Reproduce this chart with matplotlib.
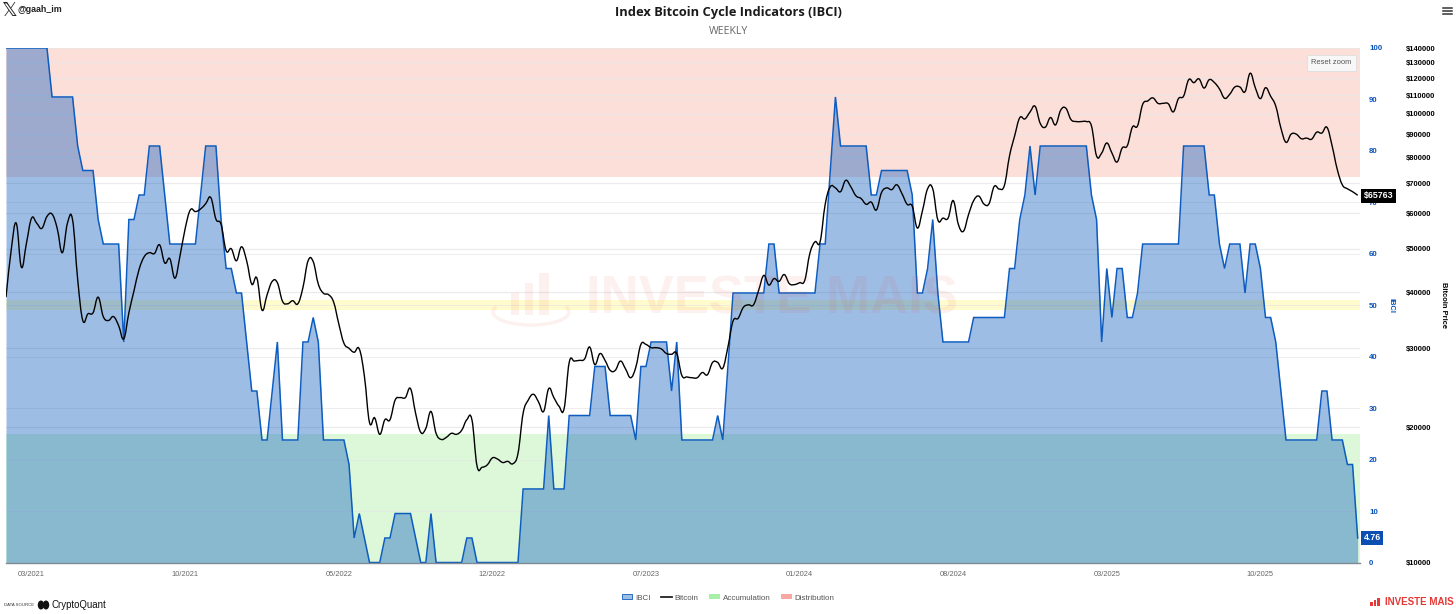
import numpy as np
import matplotlib
matplotlib.use("Agg")
import matplotlib.pyplot as plt
from matplotlib.lines import Line2D
from matplotlib.patches import Patch, PathPatch, Rectangle, Arc, Ellipse
from matplotlib.path import Path

# weekly series
ibci = [
    100, 100, 100, 100, 100, 100, 100, 100, 100, 90.48,
    90.48, 90.48, 90.48, 90.48, 80.95, 76.19, 76.19, 76.19, 66.67, 61.9,
    61.9, 61.9, 61.9, 42.86, 66.67, 66.67, 71.43, 71.43, 80.95, 80.95,
    80.95, 71.43, 61.9, 61.9, 61.9, 61.9, 61.9, 61.9, 71.43, 80.95,
    80.95, 80.95, 66.67, 57.14, 57.14, 52.38, 52.38, 42.86, 33.33, 33.33,
    23.81, 23.81, 33.33, 42.86, 23.81, 23.81, 23.81, 23.81, 42.86, 42.86,
    47.62, 42.86, 23.81, 23.81, 23.81, 23.81, 23.81, 19.05, 4.76, 9.52,
    4.76, 0, 0, 0, 4.76, 4.76, 9.52, 9.52, 9.52, 9.52,
    4.76, 0, 0, 9.52, 0, 0, 0, 0, 0, 0,
    4.76, 4.76, 0, 0, 0, 0, 0, 0, 0, 0,
    0, 14.29, 14.29, 14.29, 14.29, 14.29, 28.57, 14.29, 14.29, 14.29,
    28.57, 28.57, 28.57, 28.57, 28.57, 38.1, 38.1, 38.1, 28.57, 28.57,
    28.57, 28.57, 28.57, 23.81, 38.1, 38.1, 42.86, 42.86, 42.86, 42.86,
    33.33, 42.86, 23.81, 23.81, 23.81, 23.81, 23.81, 23.81, 23.81, 28.57,
    23.81, 38.1, 52.38, 52.38, 52.38, 52.38, 52.38, 52.38, 52.38, 61.9,
    61.9, 52.38, 52.38, 52.38, 52.38, 52.38, 52.38, 52.38, 52.38, 61.9,
    61.9, 76.19, 90.48, 80.95, 80.95, 80.95, 80.95, 80.95, 80.95, 71.43,
    71.43, 76.19, 76.19, 76.19, 76.19, 76.19, 76.19, 71.43, 52.38, 52.38,
    57.14, 66.67, 52.38, 42.86, 42.86, 42.86, 42.86, 42.86, 42.86, 47.62,
    47.62, 47.62, 47.62, 47.62, 47.62, 47.62, 57.14, 57.14, 66.67, 71.43,
    80.95, 71.43, 80.95, 80.95, 80.95, 80.95, 80.95, 80.95, 80.95, 80.95,
    80.95, 80.95, 71.43, 66.67, 42.86, 57.14, 47.62, 57.14, 57.14, 47.62,
    47.62, 52.38, 61.9, 61.9, 61.9, 61.9, 61.9, 61.9, 61.9, 61.9,
    80.95, 80.95, 80.95, 80.95, 80.95, 71.43, 71.43, 61.9, 57.14, 61.9,
    61.9, 61.9, 52.38, 61.9, 61.9, 57.14, 47.62, 47.62, 42.86, 33.33,
    23.81, 23.81, 23.81, 23.81, 23.81, 23.81, 23.81, 33.33, 33.33, 23.81,
    23.81, 23.81, 19.05, 19.05, 4.76,
]

bitcoin = [
    39000, 49500, 57000, 45500, 51500, 58500, 57000, 55500, 59000, 59700,
    55500, 49000, 57000, 58000, 42700, 34600, 35800, 36000, 39000, 35300,
    34600, 35300, 33700, 31500, 36000, 40300, 45000, 48000, 49000, 48800,
    51000, 46500, 47500, 43000, 48300, 55500, 61000, 60500, 61300, 63000,
    65000, 58200, 56700, 49500, 50000, 47000, 50500, 47000, 41700, 43000,
    36500, 39500, 42300, 42000, 38200, 37700, 38300, 37700, 41000, 47000,
    46800, 41700, 39800, 39500, 38000, 34000, 30800, 30000, 29400, 29900,
    26000, 20500, 21000, 19300, 20800, 20800, 23000, 23300, 23300, 24400,
    21500, 19500, 19900, 21700, 19400, 18800, 19000, 19400, 19300, 19700,
    20800, 20800, 16400, 16300, 16500, 17100, 17000, 16700, 16800, 16600,
    17500, 21500, 23000, 23700, 22800, 21700, 24400, 23300, 22300, 22000,
    27900, 28100, 28200, 28400, 30200, 27600, 29200, 28200, 26800, 26800,
    28100, 27000, 25800, 27200, 30600, 30600, 30100, 30100, 29900, 29200,
    29100, 29200, 26100, 25900, 25800, 25800, 26500, 26200, 27900, 27900,
    27100, 30200, 34500, 35000, 37000, 37500, 37500, 40400, 43600, 41500,
    42900, 42300, 43800, 41800, 41600, 42000, 42500, 48800, 51800, 51800,
    62800, 68700, 68300, 67000, 71000, 68700, 65600, 64700, 62800, 63500,
    61000, 66700, 68300, 67700, 69400, 66300, 62800, 62200, 55600, 60800,
    68000, 68000, 58000, 58500, 58500, 64000, 56700, 54700, 59600, 64000,
    65500, 62900, 63000, 68800, 67900, 69200, 80500, 89200, 97900, 97300,
    100800, 103800, 95100, 93300, 98000, 94400, 101800, 102800, 97000, 96000,
    96000, 96000, 93900, 80500, 81700, 86000, 81700, 78000, 83800, 84800,
    93300, 93900, 104800, 106700, 108400, 105400, 105400, 105200, 100900, 108000,
    109400, 119000, 117200, 119500, 114000, 119000, 117300, 113500, 108200, 110400,
    114600, 114600, 111900, 123000, 114200, 108000, 114200, 109300, 103900, 92900,
    86300, 90000, 90000, 87900, 88200, 87700, 90900, 90500, 93200, 84800,
    75200, 69400, 68000, 67000, 65763,
]

tick_weeks = [5, 35, 65, 95, 125, 155, 185, 215, 245]
tick_dates = ["03/2021", "10/2021", "05/2022", "12/2022", "07/2023", "01/2024", "08/2024", "03/2025", "10/2025"]
ibci_ticks = [0, 10, 20, 30, 40, 50, 60, 70, 80, 90, 100]
price_ticks = [10000, 20000, 30000, 40000, 50000, 60000, 70000, 80000, 90000,
               100000, 110000, 120000, 130000, 140000]

W, H = 1456, 614
BLUE = "#0d5cbf"


def px(x, y):
    # picture pixels -> figure fraction
    return x / W, 1 - y / H


def spline(x, y):
    # smooth path through the weekly closes, done in log space
    ly = np.log10(y)
    slope = np.gradient(ly)
    verts = [(x[0], ly[0])]
    codes = [Path.MOVETO]
    for i in range(len(x) - 1):
        verts.append((x[i] + 0.4, ly[i] + 0.4 * slope[i]))
        verts.append((x[i + 1] - 0.4, ly[i + 1] - 0.4 * slope[i + 1]))
        verts.append((x[i + 1], ly[i + 1]))
        codes += [Path.CURVE4] * 3
    verts = np.array(verts)
    verts[:, 1] = 10 ** verts[:, 1]
    return Path(verts, codes)


plt.rcParams["font.family"] = ["Liberation Sans", "DejaVu Sans"]

fig = plt.figure(figsize=(W / 100, H / 100), dpi=100)
left, top = px(6, 48)
right, bottom = px(1360, 562.5)
ax = fig.add_axes([left, bottom, right - left, top - bottom])
ax2 = ax.twinx()

weeks = np.arange(len(ibci))
ax.set_xlim(0, (1360 - 6) / 5.12)
ax.set_ylim(0, 100)
ax2.set_yscale("log")
ax2.set_ylim(10000, 140000)

# zones
ax.axhspan(75, 100, color="#fddfd9", lw=0, zorder=0)
ax.axhspan(49, 51, color="#fffbcc", lw=0, zorder=0)
ax.axhspan(0, 25, color="#dcf8d9", lw=0, zorder=0)

ax.set_yticks(ibci_ticks)
ax.set_xticks(tick_weeks)
ax.set_xticklabels(tick_dates)
ax.grid(axis="y", color="#e6e6e6", lw=0.7, alpha=0.7, zorder=0.5)
ax.set_axisbelow(True)

ax2.set_yticks(price_ticks)
ax2.set_yticklabels(["$%d" % p for p in price_ticks])
ax2.minorticks_off()

# price grid has to sit under the blue area, so it goes on the first axes
for p in price_ticks[1:-1]:
    ax.plot([0, 1], [p, p], transform=ax2.get_yaxis_transform(which="grid"), color="#e6e6e6", lw=0.9, alpha=0.8,
            zorder=0.5)

ax.fill_between(weeks, ibci, 0, color=BLUE, alpha=0.4, lw=0, zorder=1)
ax.plot(weeks, ibci, color=BLUE, lw=1.1, zorder=2, solid_joinstyle="miter")
ax2.add_patch(PathPatch(spline(weeks, np.array(bitcoin, dtype=float)), fc="none", ec="black", lw=1.0, zorder=3))

for s in ["top", "left", "right", "bottom"]:
    ax.spines[s].set_visible(False)
    ax2.spines[s].set_visible(False)
ax.spines["bottom"].set_visible(True)
ax.spines["bottom"].set_color("#7f8a94")
ax.spines["bottom"].set_linewidth(1.0)

ax.yaxis.tick_right()
ax.tick_params(axis="y", length=0, pad=6.5, labelsize=5.7, labelcolor="#0b52b8")
for lab in ax.get_yticklabels():
    lab.set_fontweight("bold")
ax.tick_params(axis="x", length=0, pad=6, labelsize=5.4, labelcolor="#666666")
ax2.tick_params(axis="y", length=0, pad=33, labelsize=5.5, labelcolor="black")
for lab in ax2.get_yticklabels():
    lab.set_fontweight("bold")

# watermark
fig.text(*px(772, 300), "INVESTE MAIS", fontsize=38, fontweight="bold", color="#e53935", alpha=0.07,
         ha="center", va="center", zorder=5)
for x0, x1, y0 in [(511, 519, 293), (525, 533, 283), (539, 549, 273)]:
    fig.add_artist(Rectangle(px(x0, 315), (x1 - x0) / W, (315 - y0) / H, transform=fig.transFigure,
                             fc="#e53935", ec="none", alpha=0.07, zorder=5))
fig.add_artist(Arc(px(531, 312), 76 / W, 26 / H, theta1=-20, theta2=200, angle=180, transform=fig.transFigure,
                   ec="#e53935", lw=2.5, alpha=0.07, zorder=5))

# titles
fig.text(*px(728, 12.5), "Index Bitcoin Cycle Indicators (IBCI)", fontsize=9.25, fontweight="bold",
         family="Open Sans", color="#1a1a1a", ha="center", va="center")
fig.text(*px(728, 31), "WEEKLY", fontsize=7.6, family="Open Sans", color="#666666", ha="center", va="center")

# header left and menu
fig.text(*px(10, 11), "\U0001D54F", fontsize=14, family="DejaVu Sans", color="#222222", ha="center", va="center")
fig.text(*px(18, 10), "@gaah_im", fontsize=6.4, fontweight="bold", color="#222222", ha="left", va="center")
for yy in [8, 11, 14]:
    fig.add_artist(Line2D([1443 / W, 1452 / W], [1 - yy / H] * 2, color="#333333", lw=1.1))

# axis titles
fig.text(*px(1391, 305), "IBCI", fontsize=5.4, fontweight="bold", color="#0b52b8", rotation=-90, ha="center",
         va="center")
fig.text(*px(1443, 305), "Bitcoin Price", fontsize=5.4, fontweight="bold", color="black", rotation=-90,
         ha="center", va="center")

# last value flags
fig.text(*px(1378.5, 196), "$65763", fontsize=6.4, fontweight="bold", color="white", ha="center", va="center", zorder=6,
         bbox=dict(boxstyle="square,pad=0.25", fc="black", ec="none"))
fig.text(*px(1372, 538), "4.76", fontsize=6.4, fontweight="bold", color="white", ha="center", va="center", zorder=6,
         bbox=dict(boxstyle="square,pad=0.25", fc="#0b4fb3", ec="none"))

# reset button
fig.text(*px(1331.5, 62.5), "Reset zoom", fontsize=5.4, color="#555555", ha="center", va="center", zorder=6,
         bbox=dict(boxstyle="square,pad=0.6", fc="#f7f7f7", ec="#e0e0e0", lw=0.7))

# legend
handles = [Patch(fc="#9fbfe3", ec=BLUE, lw=0.6), Line2D([], [], color="#222222", lw=1.3),
           Patch(fc="#a8efa8", ec="none"), Patch(fc="#f7a8a0", ec="none")]
fig.legend(handles, ["IBCI", "Bitcoin", "Accumulation", "Distribution"], loc="center", bbox_to_anchor=px(728, 598),
           ncol=4, frameon=False, fontsize=5.8, labelcolor="#555555", handlelength=1.3, handleheight=0.5,
           handletextpad=0.35, columnspacing=1.35, borderpad=0)

# bottom logos
fig.text(*px(4, 605), "DATA SOURCE", fontsize=3.1, color="#333333", ha="left", va="center")
fig.add_artist(Ellipse(px(41, 605), 6.5 / W, 9 / H, transform=fig.transFigure, fc="#111111", ec="none"))
fig.add_artist(Ellipse(px(46, 605), 6.5 / W, 9 / H, transform=fig.transFigure, fc="#111111", ec="none"))
fig.text(*px(52, 605), "CryptoQuant", fontsize=6.9, color="#111111", ha="left", va="center")
fig.text(*px(1385, 602), "INVESTE MAIS", fontsize=7.0, fontweight="bold", color="#e53935", ha="left", va="center")
for x0, h in [(1370, 4), (1373.5, 6), (1377, 8)]:
    fig.add_artist(Rectangle(px(x0, 606), 2.5 / W, h / H, transform=fig.transFigure, fc="#e53935", ec="none"))

fig.savefig("out.png", dpi=100)
